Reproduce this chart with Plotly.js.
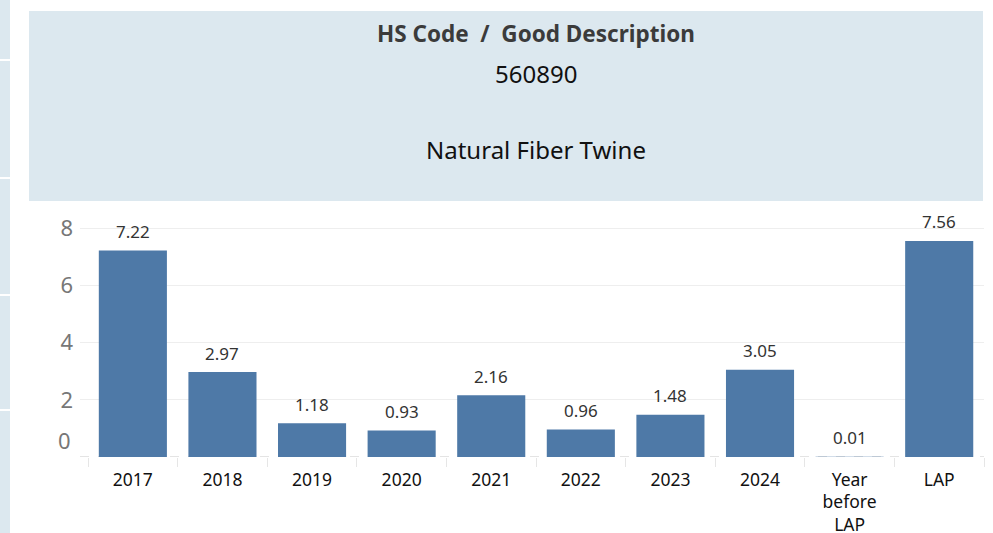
<!DOCTYPE html>
<html>
<head>
<meta charset="utf-8">
<script src="https://cdn.plot.ly/plotly-3.0.1.min.js"></script>
<style>
  html, body { margin: 0; padding: 0; background: #ffffff; }
  #chart { width: 993px; height: 533px; }
</style>
</head>
<body>
<div id="chart"></div>
<script>
// ---- Data ----
const categories = ['2017', '2018', '2019', '2020', '2021', '2022', '2023', '2024', 'Year<br>before<br>LAP', 'LAP'];
const values = [7.22, 2.97, 1.18, 0.93, 2.16, 0.96, 1.48, 3.05, 0.01, 7.56];
const valueLabels = ['7.22', '2.97', '1.18', '0.93', '2.16', '0.96', '1.48', '3.05', '0.01', '7.56'];
const yTickValues = [2, 4, 6, 8];
const yTickLabels = ['2', '4', '6', '8'];
const headerTitle = 'HS Code  /  Good Description';
const hsCode = '560890';
const goodDescription = 'Natural Fiber Twine';

// ---- Layout geometry (pixels) ----
const W = 993, H = 533;
const plotL = 80, plotR = 984, plotT = 210, plotB = 457;
const px = x => (x - plotL) / (plotR - plotL);
const py = y => (plotB - y) / (plotB - plotT);

const bg = '#dce8ef';
const font = '"Noto Sans", "Open Sans", sans-serif';

const shapes = [
  // header panel
  {type: 'rect', xref: 'paper', yref: 'paper', x0: px(29), x1: px(983), y0: py(201), y1: py(11),
   fillcolor: bg, line: {width: 0}, layer: 'below'},
  // left side strip
  {type: 'rect', xref: 'paper', yref: 'paper', x0: px(0), x1: px(10), y0: py(533), y1: py(0),
   fillcolor: bg, line: {width: 0}, layer: 'below'},
  // dashed baseline (drawn beneath the bars)
  {type: 'line', xref: 'paper', yref: 'y', x0: px(80), x1: px(984), y0: 0, y1: 0,
   line: {color: '#c8c8c8', width: 1, dash: 'dash'}, layer: 'below'}
];
[60, 178, 295, 410].forEach(y => {
  shapes.push({type: 'line', xref: 'paper', yref: 'paper', x0: px(0), x1: px(10), y0: py(y), y1: py(y),
    line: {color: '#ffffff', width: 2}});
});

const annotations = [
  {text: '<b>' + headerTitle + '</b>', xref: 'paper', yref: 'paper', x: px(536), y: py(33),
   showarrow: false, font: {family: font, size: 22.5, color: '#3b3b3b'}, xanchor: 'center', yanchor: 'middle'},
  {text: hsCode, xref: 'paper', yref: 'paper', x: px(536), y: py(74),
   showarrow: false, font: {family: font, size: 24, color: '#111111'}, xanchor: 'center', yanchor: 'middle'},
  {text: goodDescription, xref: 'paper', yref: 'paper', x: px(536), y: py(149),
   showarrow: false, font: {family: font, size: 24, color: '#111111'}, xanchor: 'center', yanchor: 'middle'},
  // zero tick label (Tableau draws it lifted above the baseline)
  {text: '0', xref: 'paper', yref: 'y', x: px(73), y: 0, yshift: 17, xanchor: 'right', yanchor: 'middle',
   showarrow: false, font: {family: font, size: 22, color: '#777777'}}
];

// value labels above each bar (x given as category index on the category axis)
categories.forEach((c, i) => {
  annotations.push({
    text: valueLabels[i], x: i, y: values[i], xref: 'x', yref: 'y',
    yanchor: 'middle', yshift: 19, showarrow: false,
    font: {family: font, size: 17, color: '#333333'}
  });
});

const trace = {
  type: 'bar',
  x: categories,
  y: values,
  marker: {color: '#4e79a7'},
  cliponaxis: false,
  hoverinfo: 'x+y'
};

const layout = {
  width: W, height: H,
  margin: {l: plotL, r: W - plotR, t: plotT, b: H - plotB, pad: 0},
  paper_bgcolor: '#ffffff',
  plot_bgcolor: '#ffffff',
  showlegend: false,
  bargap: 0.24,
  xaxis: {
    type: 'category',
    range: [-0.59, 9.5],
    automargin: false,
    tickson: 'boundaries',
    ticks: 'outside',
    ticklen: 9,
    tickcolor: '#e6e6e6',
    tickwidth: 1,
    ticklabelstandoff: 10,
    showgrid: false,
    showline: false,
    zeroline: false,
    tickfont: {family: font, size: 17.5, color: '#111111'},
    tickangle: 0
  },
  yaxis: {
    range: [0, 8.64],
    automargin: false,
    tickvals: yTickValues,
    ticktext: yTickLabels,
    tickfont: {family: font, size: 22, color: '#777777'},
    ticks: '',
    ticklabelstandoff: 6,
    showgrid: true,
    gridcolor: '#eeeeee',
    gridwidth: 1,
    zeroline: false,
    showline: false
  },
  shapes: shapes,
  annotations: annotations
};

Plotly.newPlot('chart', [trace], layout, {displayModeBar: false, staticPlot: true});
</script>
</body>
</html>
